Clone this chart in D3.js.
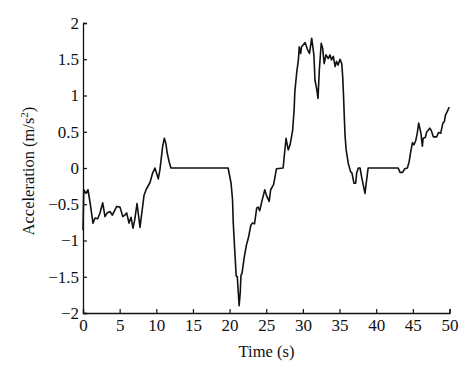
<!DOCTYPE html>
<html>
<head>
<meta charset="utf-8">
<script src="https://cdn.jsdelivr.net/npm/d3@7"></script>
<style>
  html, body { margin: 0; padding: 0; background: #fff; }
  svg { display: block; }
  text { font-family: "Liberation Serif", "DejaVu Serif", serif; fill: #111; }
</style>
</head>
<body>
<svg id="chart" width="474" height="377"></svg>
<script>
// Time (s)
const timeValues = [
  0, 0.1, 0.4, 0.68, 1.0, 1.36, 1.64, 2.0, 2.32, 2.69, 3.0, 3.3, 3.68, 4.0, 4.6, 5.05, 5.42, 5.7, 5.96, 6.28,
  6.55, 6.82, 7.05, 7.37, 7.78, 8.32, 8.6, 9.14, 9.5, 9.82, 10.27, 10.5, 10.87, 11.1, 11.3, 11.5, 11.77, 12.0,
  19.8, 20.2, 20.4, 20.5, 20.7, 20.9, 21.05, 21.3, 21.45, 21.55, 21.7, 22.0, 22.3, 22.55, 22.9, 23.1, 23.4,
  23.7, 23.9, 24.1, 24.4, 24.8, 25.0, 25.4, 25.6, 26.0, 26.4, 27.3,
  27.7, 28.0, 28.25, 28.6, 28.8, 28.9, 29.15, 29.4, 29.5, 29.7, 29.8, 30.3, 30.6, 30.9, 31.2, 31.5, 31.65, 31.9,
  32.06, 32.24, 32.5, 32.7, 32.9, 33.15, 33.46, 33.7, 33.9, 34.15, 34.4, 34.6, 34.8, 35.06, 35.3, 35.43, 35.55,
  35.65, 35.75, 35.9, 36.2, 36.5, 36.7, 36.97, 37.2, 37.33, 37.56, 37.8, 38.0, 38.47, 38.7, 38.9,
  43.0, 43.25, 43.6, 43.9, 44.25, 44.5, 44.7, 44.95, 45.15, 45.4, 45.6, 45.8, 45.95, 46.1, 46.3, 46.4, 46.7,
  46.9, 47.1, 47.3, 47.5, 47.8, 48.25, 48.5, 48.8, 49.1, 49.3, 49.45, 49.7, 49.97
];
// Acceleration (m/s^2)
const accelValues = [
  -0.86, -0.3, -0.35, -0.3, -0.5, -0.76, -0.69, -0.7, -0.62, -0.48, -0.67, -0.62, -0.6, -0.65, -0.53, -0.54, -0.67, -0.65, -0.62, -0.76,
  -0.68, -0.83, -0.72, -0.49, -0.82, -0.38, -0.3, -0.2, -0.07, 0, -0.15, -0.02, 0.3, 0.41, 0.34, 0.2, 0.08, 0,
  0, -0.21, -0.44, -0.76, -1.13, -1.49, -1.5, -1.9, -1.72, -1.48, -1.45, -1.23, -1.06, -0.97, -0.79, -0.76, -0.77,
  -0.55, -0.54, -0.59, -0.46, -0.3, -0.37, -0.46, -0.3, -0.23, -0.01, 0,
  0.41, 0.25, 0.32, 0.52, 0.8, 1.05, 1.31, 1.51, 1.67, 1.58, 1.67, 1.73, 1.64, 1.58, 1.79, 1.56, 1.21, 1.08,
  0.96, 1.35, 1.72, 1.65, 1.44, 1.56, 1.51, 1.56, 1.49, 1.54, 1.40, 1.47, 1.42, 1.5, 1.44, 1.26, 0.98,
  0.7, 0.45, 0.25, 0.06, -0.05, -0.07, -0.21, -0.21, -0.07, 0, 0, -0.12, -0.35, -0.16, 0,
  0, -0.06, -0.06, -0.01, 0, 0.09, 0.22, 0.35, 0.32, 0.38, 0.48, 0.62, 0.55, 0.48, 0.30, 0.41, 0.42,
  0.5, 0.52, 0.55, 0.52, 0.43, 0.43, 0.49, 0.48, 0.62, 0.64, 0.73, 0.78, 0.84
];
const xTicks = [0, 5, 10, 15, 20, 25, 30, 35, 40, 45, 50];
const yTicks = [-2, -1.5, -1, -0.5, 0, 0.5, 1, 1.5, 2];
const xLabel = "Time (s)";
const yLabelMain = "Acceleration (m/s";
const yLabelSup = "2";

const svg = d3.select("#chart");
const x = d3.scaleLinear().domain([0, 50]).range([83, 449.5]);
const y = d3.scaleLinear().domain([-2, 2]).range([313, 23]);

const fmt = v => String(v).replace("-", "\u2212");

const gx = svg.append("g").attr("transform", `translate(0,${y(-2)})`)
  .call(d3.axisBottom(x).tickValues(xTicks).tickFormat(fmt).tickSize(-4).tickPadding(6));
const gy = svg.append("g").attr("transform", `translate(${x(0)},0)`)
  .call(d3.axisLeft(y).tickValues(yTicks).tickFormat(fmt).tickSize(-4).tickPadding(4));

[gx, gy].forEach(g => {
  g.select(".domain").attr("stroke", "#111").attr("stroke-width", 1.3);
  g.selectAll(".tick line").attr("stroke", "#111").attr("stroke-width", 1.2);
  g.selectAll(".tick text").style("font-size", "17px").style("font-family", "Liberation Serif, serif").attr("fill", "#111");
});

const data = timeValues.map((t, i) => ({ t, a: accelValues[i] }));
svg.append("path")
  .datum(data)
  .attr("fill", "none")
  .attr("stroke", "#111")
  .attr("stroke-width", 1.6)
  .attr("stroke-linejoin", "round")
  .attr("d", d3.line().x(d => x(d.t)).y(d => y(d.a)));

svg.append("text")
  .attr("x", 266.5).attr("y", 357)
  .attr("text-anchor", "middle")
  .style("font-size", "16.5px")
  .text(xLabel);

const yl = svg.append("text")
  .attr("transform", `translate(34,${(y(2) + y(-2)) / 2 + 3}) rotate(-90)`)
  .attr("text-anchor", "middle")
  .style("font-size", "16.5px");
yl.append("tspan").text(yLabelMain);
yl.append("tspan").attr("dy", -6).style("font-size", "11px").text(yLabelSup);
yl.append("tspan").attr("dy", 6).text(")");
</script>
</body>
</html>
